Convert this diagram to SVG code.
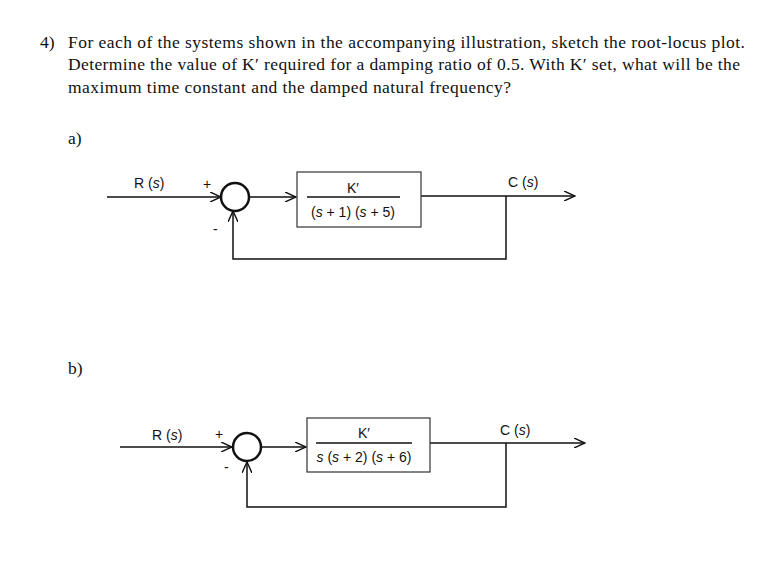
<svg xmlns="http://www.w3.org/2000/svg" width="778" height="565" viewBox="0 0 778 565">
<style>
.q{font-family:"Liberation Serif",serif;font-size:17.5px;fill:#111}
.l{font-family:"Liberation Sans",sans-serif;font-size:14px;fill:#111}
.w{fill:none;stroke:#111;stroke-width:1.5}
.b{fill:#fff;stroke:#333;stroke-width:1.2}
</style>
<defs><marker id="a" markerWidth="12" markerHeight="10" refX="11" refY="5" orient="auto" markerUnits="userSpaceOnUse"><path d="M0,0 L11,5 L0,10" fill="none" stroke="#111" stroke-width="1.4"/></marker></defs>
<rect width="778" height="565" fill="#fff"/>
<text class="q" x="40" y="48">4)</text>
<text class="q" x="68" y="48" textLength="677" lengthAdjust="spacing">For each of the systems shown in the accompanying illustration, sketch the root-locus plot.</text>
<text class="q" x="68" y="70" textLength="672" lengthAdjust="spacing">Determine the value of K′ required for a damping ratio of 0.5. With K′ set, what will be the</text>
<text class="q" x="68" y="93" textLength="443" lengthAdjust="spacing">maximum time constant and the damped natural frequency?</text>
<text class="q" x="68" y="144">a)</text>
<text class="q" x="68" y="374">b)</text>
<g id="conn">
<path class="w" d="M107,197 H221" marker-end="url(#a)"/>
<path class="w" d="M250,197 H296" marker-end="url(#a)"/>
<path class="w" d="M421,196 H575" marker-end="url(#a)"/>
<path class="w" d="M506,196 V259 H233 V211" marker-end="url(#a)"/>
<path class="w" d="M120,447 H232" marker-end="url(#a)"/>
<path class="w" d="M261,447 H306" marker-end="url(#a)"/>
<path class="w" d="M430,443 H585" marker-end="url(#a)"/>
<path class="w" d="M506,443 V507 H247 V462" marker-end="url(#a)"/>
</g>
<g id="sumA"><circle cx="235" cy="197" r="14" fill="#fff" stroke="#111" stroke-width="2.5"/><text class="l" x="203" y="189">+</text><text class="l" x="213" y="234">-</text></g>
<g id="blockA"><rect class="b" x="297" y="172" width="124" height="55"/><line x1="307" y1="197" x2="400" y2="197" stroke="#111" stroke-width="1.3"/><text class="l" x="353" y="193" text-anchor="middle">K′</text><text class="l" x="353" y="217" text-anchor="middle">(<tspan font-style="italic">s</tspan> + 1) (<tspan font-style="italic">s</tspan> + 5)</text></g>
<text class="l" x="134" y="188">R (<tspan font-style="italic">s</tspan>)</text>
<text class="l" x="508" y="187">C (<tspan font-style="italic">s</tspan>)</text>
<g id="sumB"><circle cx="247" cy="447" r="14" fill="#fff" stroke="#111" stroke-width="2.5"/><text class="l" x="215" y="439">+</text><text class="l" x="224" y="472">-</text></g>
<g id="blockB"><rect class="b" x="307" y="418" width="123" height="54"/><line x1="316" y1="443" x2="412" y2="443" stroke="#111" stroke-width="1.3"/><text class="l" x="364" y="438" text-anchor="middle">K′</text><text class="l" x="364" y="462" text-anchor="middle"><tspan font-style="italic">s</tspan> (<tspan font-style="italic">s</tspan> + 2) (<tspan font-style="italic">s</tspan> + 6)</text></g>
<text class="l" x="152" y="440">R (<tspan font-style="italic">s</tspan>)</text>
<text class="l" x="500" y="435">C (<tspan font-style="italic">s</tspan>)</text>
</svg>
